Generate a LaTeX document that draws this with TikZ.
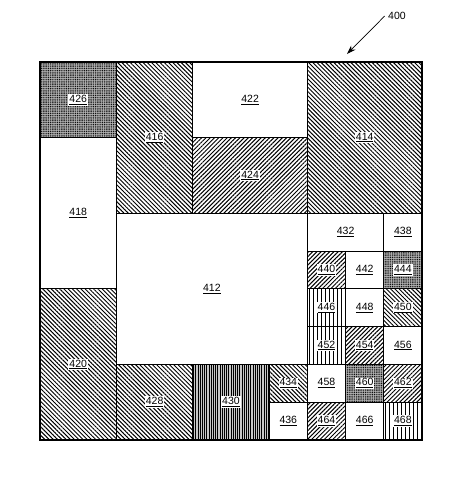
\documentclass[tikz,border=0pt]{standalone}
\usepackage{fontspec}
\setmainfont{Liberation Sans}
\usepackage{tikz}
\usetikzlibrary{arrows.meta, patterns.meta}

\begin{document}
\begin{tikzpicture}[
    cell/.style={draw=black, line width=0.8pt},
    blank/.style={cell, fill=white},
    hatchnw/.style={cell, pattern={Lines[angle=-45, distance=3pt, line width=1pt]}},
    hatchne/.style={cell, pattern={Lines[angle=45, distance=3pt, line width=1pt]}},
    vert/.style={cell, path picture={
        \foreach \k in {2,6,...,38}
          \draw[line width=1.3pt] ([xshift=\k pt]path picture bounding box.south west)
                                  -- ([xshift=\k pt]path picture bounding box.north west);}},
    densevert/.style={cell, preaction={fill=gray!45}, pattern={Lines[angle=90, distance=2.2pt, line width=0.9pt]}},
    dense/.style={cell, preaction={fill=gray!60}, pattern={Dots[distance=1.8pt, radius=0.6pt]}},
    lbl/.style={fill=white, inner sep=1pt, font=\fontsize{10.5}{12}\selectfont},
    pointer/.style={-{Stealth[length=9pt, width=6pt]}, line width=0.7pt}
]
\useasboundingbox (0,0) rectangle (474pt,-488pt);

% Reference numeral
\node[font=\fontsize{10.5}{12}\selectfont] (n400) at (397pt,-16pt) {400};
\coordinate (tip400) at (347pt,-54pt);
\draw[pointer] (n400.west) -- (tip400);

\begin{scope}[shift={(40pt,-62pt)}, x=38.2pt, y=37.8pt]
% Large blocks
\path[dense]   (0,0) rectangle (2,-2);
\node[lbl] (c426) at (1,-1) {\underline{426}};
\path[hatchnw] (2,0) rectangle (4,-4);
\node[lbl] (c416) at (3,-2) {\underline{416}};
\path[blank]   (4,0) rectangle (7,-2);
\node[lbl] (c422) at (5.5,-1) {\underline{422}};
\path[hatchne] (4,-2) rectangle (7,-4);
\node[lbl] (c424) at (5.5,-3) {\underline{424}};
\path[hatchnw] (7,0) rectangle (10,-4);
\node[lbl] (c414) at (8.5,-2) {\underline{414}};
\path[blank]   (0,-2) rectangle (2,-6);
\node[lbl] (c418) at (1,-4) {\underline{418}};
\path[blank]   (2,-4) rectangle (7,-8);
\node[lbl] (c412) at (4.5,-6) {\underline{412}};
\path[hatchnw] (0,-6) rectangle (2,-10);
\node[lbl] (c420) at (1,-8) {\underline{420}};
\path[hatchnw] (2,-8) rectangle (4,-10);
\node[lbl] (c428) at (3,-9) {\underline{428}};
\path[densevert] (4,-8) rectangle (6,-10);
\node[lbl] (c430) at (5,-9) {\underline{430}};
\path[hatchnw] (6,-8) rectangle (7,-9);
\node[lbl] (c434) at (6.5,-8.5) {\underline{434}};
\path[blank]   (6,-9) rectangle (7,-10);
\node[lbl] (c436) at (6.5,-9.5) {\underline{436}};

% Small blocks, right column
\path[blank]   (7,-4) rectangle (9,-5);
\node[lbl] (c432) at (8,-4.5) {\underline{432}};
\path[blank]   (9,-4) rectangle (10,-5);
\node[lbl] (c438) at (9.5,-4.5) {\underline{438}};
\path[hatchne] (7,-5) rectangle (8,-6);
\node[lbl] (c440) at (7.5,-5.5) {\underline{440}};
\path[blank]   (8,-5) rectangle (9,-6);
\node[lbl] (c442) at (8.5,-5.5) {\underline{442}};
\path[dense]   (9,-5) rectangle (10,-6);
\node[lbl] (c444) at (9.5,-5.5) {\underline{444}};
\path[vert]    (7,-6) rectangle (8,-7);
\node[lbl] (c446) at (7.5,-6.5) {\underline{446}};
\path[blank]   (8,-6) rectangle (9,-7);
\node[lbl] (c448) at (8.5,-6.5) {\underline{448}};
\path[hatchnw] (9,-6) rectangle (10,-7);
\node[lbl] (c450) at (9.5,-6.5) {\underline{450}};
\path[vert]    (7,-7) rectangle (8,-8);
\node[lbl] (c452) at (7.5,-7.5) {\underline{452}};
\path[hatchne] (8,-7) rectangle (9,-8);
\node[lbl] (c454) at (8.5,-7.5) {\underline{454}};
\path[blank]   (9,-7) rectangle (10,-8);
\node[lbl] (c456) at (9.5,-7.5) {\underline{456}};
\path[blank]   (7,-8) rectangle (8,-9);
\node[lbl] (c458) at (7.5,-8.5) {\underline{458}};
\path[dense]   (8,-8) rectangle (9,-9);
\node[lbl] (c460) at (8.5,-8.5) {\underline{460}};
\path[hatchne] (9,-8) rectangle (10,-9);
\node[lbl] (c462) at (9.5,-8.5) {\underline{462}};
\path[hatchne] (7,-9) rectangle (8,-10);
\node[lbl] (c464) at (7.5,-9.5) {\underline{464}};
\path[blank]   (8,-9) rectangle (9,-10);
\node[lbl] (c466) at (8.5,-9.5) {\underline{466}};
\path[vert]    (9,-9) rectangle (10,-10);
\node[lbl] (c468) at (9.5,-9.5) {\underline{468}};

% Outer border
\draw[line width=1.8pt] (0,0) rectangle (10,-10);
\end{scope}
\end{tikzpicture}
\end{document}
